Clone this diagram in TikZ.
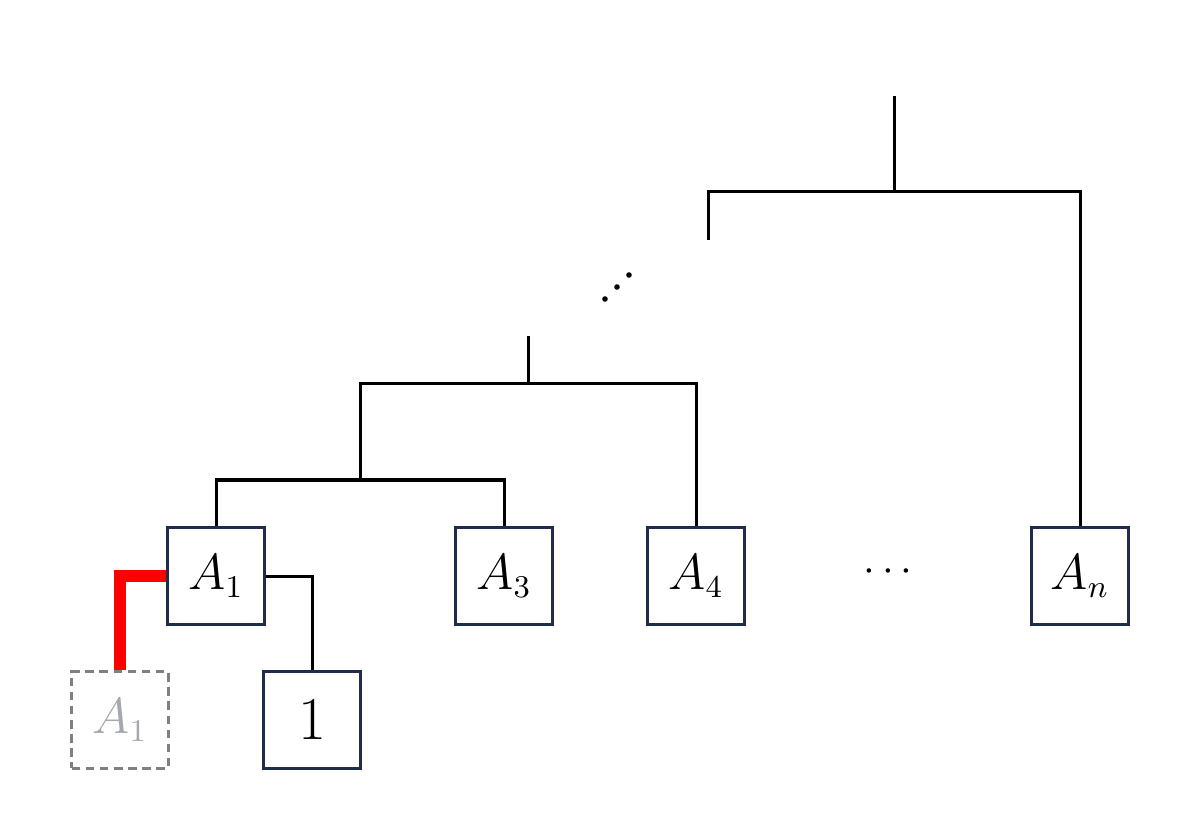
\documentclass[tikz,border=0pt]{standalone}
\usepackage{xcolor}
\definecolor{navy}{HTML}{1F2D4A}
\definecolor{ghostgray}{HTML}{808080}
\definecolor{ghosttext}{HTML}{A3A7AF}
\definecolor{redline}{HTML}{FF0000}
\begin{document}
\begin{tikzpicture}[x=0.01cm,y=-0.01cm,
  box/.style={draw=navy, line width=0.03cm, minimum size=0.96cm, inner sep=0pt, fill=white},
  ghostbox/.style={draw=ghostgray, line width=0.03cm, dash pattern=on 0.085cm off 0.055cm, minimum size=0.96cm, inner sep=0pt, text=ghosttext},
  conn/.style={black, line width=0.03cm},
  redconn/.style={redline, line width=0.11cm},
  lbl/.style={font=\fontsize{13.5}{15}\selectfont},
  dotmark/.style={fill=black, draw=none}
]
\useasboundingbox (0,0) rectangle (1200,840);
% nodes
\node[box, lbl] (A1) at (216,576) {$A_1$};
\node[box, lbl] (A3) at (504,576) {$A_3$};
\node[box, lbl] (A4) at (696,576) {$A_4$};
\node[box, lbl] (An) at (1080,576) {$A_n$};
\node[box, font=\fontsize{16}{18}\selectfont] (one) at (312,720) {$1$};
\node[ghostbox, lbl] (ghost) at (120,720) {$A_1$};
\node[font=\fontsize{12}{14}\selectfont] (hdots) at (888,572) {$\cdots$};
% diagonal dots
\fill[dotmark] (605,299) circle (2.8);
\fill[dotmark] (617,287) circle (2.8);
\fill[dotmark] (629,275) circle (2.8);
% junction coordinates
\coordinate (j1) at (360,480);
\coordinate (j2) at (528,384);
\coordinate (t2) at (528,336);
\coordinate (l3) at (708,240);
\coordinate (j3) at (894,192);
\coordinate (t3) at (894,96);
% connectors
\draw[conn] (A1.north) |- (j1) -| (A3.north);
\draw[conn] (j1) |- (j2) -| (A4.north);
\draw[conn] (j2) -- (t2);
\draw[conn] (l3) |- (j3) -| (An.north);
\draw[conn] (j3) -- (t3);
\draw[conn] (A1.east) -| (one.north);
\draw[redconn] (A1.west) -| (ghost.north);
\end{tikzpicture}
\end{document}
